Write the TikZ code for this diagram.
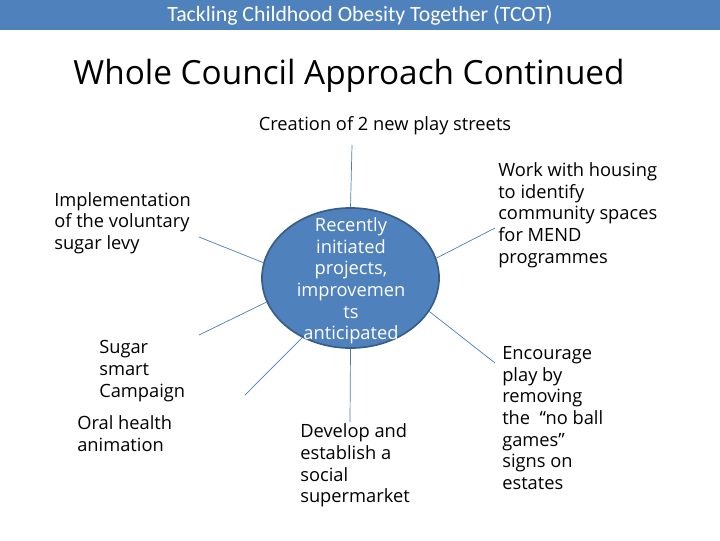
\documentclass[tikz,border=0pt]{standalone}
\usepackage{fontspec}
\setmainfont{Open Sans}
\newfontfamily\barfont{Carlito}
\usetikzlibrary{shapes.geometric}

\definecolor{barblue}{RGB}{79,129,189}
\definecolor{rimblue}{RGB}{56,93,138}
\definecolor{spokeblue}{RGB}{74,126,187}

\tikzset{
  itemtext/.style={anchor=west, inner sep=0pt, align=left, font=\fontsize{13}{15.4}\selectfont},
  spoke/.style={draw=spokeblue, line width=0.5pt},
}

\begin{document}
\begin{tikzpicture}[x=0.025cm, y=-0.025cm]
\useasboundingbox (0,0) rectangle (720,540);

% header bar
\fill[barblue] (0,0) rectangle (720,30);
\node[text=white, inner sep=0pt, font=\barfont\fontsize{15.5}{18}\selectfont] (bar) at (360,15) {Tackling Childhood Obesity Together (TCOT)};

\node[inner sep=0pt, font=\fontsize{23.7}{28}\selectfont] (title) at (349,76) {Whole Council Approach Continued};

% hub
\node[ellipse, draw=rimblue, line width=1.2pt, fill=barblue, minimum width=4.425cm, minimum height=3.5cm, inner sep=0pt] (hub) at (350.5,278) {};
\node[itemtext, anchor=center, align=center, text=white] (hubtext) at (351,281) {Recently\\initiated\\projects,\\improvemen\\ts\\anticipated};

% items
\node[itemtext, anchor=center] (streets) at (385,126) {Creation of 2 new play streets};
\node[itemtext] (levy) at (54,223) {Implementation\\of the voluntary\\sugar levy};
\node[itemtext] (sugarsmart) at (99,371) {Sugar\\smart\\Campaign};
\node[itemtext] (oral) at (77,433.5) {Oral health\\animation};
\node[itemtext] (market) at (300,465.5) {Develop and\\establish a\\social\\supermarket};
\node[itemtext] (housing) at (498,215) {Work with housing\\to identify\\community spaces\\for MEND\\programmes};
\node[itemtext] (ballgames) at (502,418) {Encourage\\play by\\removing\\the ~“no ball\\games”\\signs on\\estates};

% spoke ends
\coordinate (eN) at (352,145);
\coordinate (eNE) at (495,228);
\coordinate (eSE) at (495,363);
\coordinate (eS) at (350,422);
\coordinate (eSW) at (245,395);
\coordinate (eW) at (199,335);
\coordinate (eNW) at (199,237);

\draw[spoke] (hub.90) -- (eN);
\draw[spoke] (hub.13) -- (eNE);
\draw[spoke] (hub.-23.5) -- (eSE);
\draw[spoke] (hub.-90) -- (eS);
\draw[spoke] (hub.231) -- (eSW);
\draw[spoke] (hub.196) -- (eW);
\draw[spoke] (hub.170) -- (eNW);

\end{tikzpicture}
\end{document}
